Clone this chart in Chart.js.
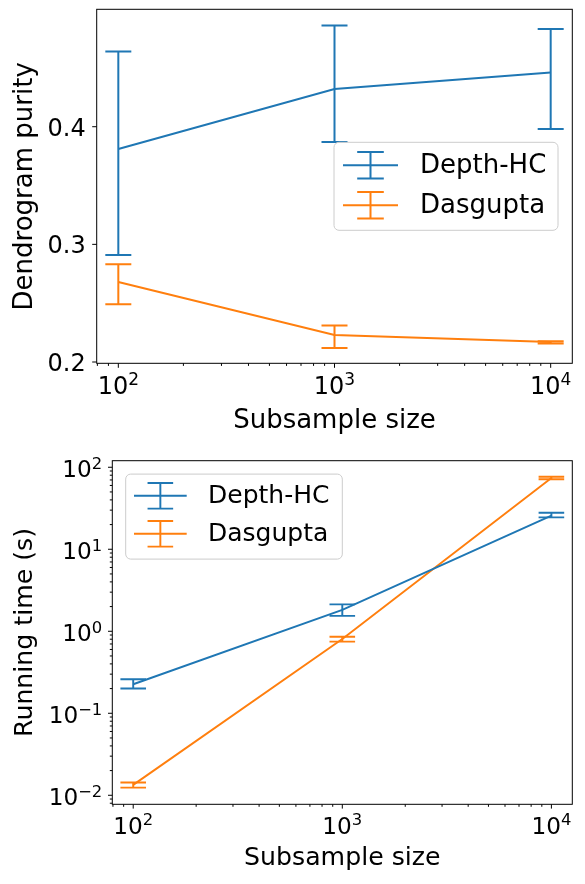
<!DOCTYPE html>
<html>
<head>
<meta charset="utf-8">
<title>Dendrogram purity and running time</title>
<script src="https://cdn.jsdelivr.net/npm/chart.js@4.4.1/dist/chart.umd.min.js"></script>
<style>
    html, body { margin: 0; padding: 0; background: #fff; }
    body { width: 585px; height: 884px; position: relative; overflow: hidden; }
    canvas { position: absolute; left: 0; }
    #purityChart  { top: 0; }
    #runtimeChart { top: 440px; }
</style>
</head>
<body>
<canvas id="purityChart" width="585" height="440"></canvas>
<canvas id="runtimeChart" width="585" height="444"></canvas>
<script>
// ---- data ----
var sizes       = [100, 1000, 10000];
var seriesNames = ['Depth-HC', 'Dasgupta'];

// top panel: dendrogram purity (mean, lower / upper error bar ends)
var purityDepthMean = [0.381, 0.432, 0.446];
var purityDepthLow  = [0.291, 0.387, 0.398];
var purityDepthHigh = [0.464, 0.486, 0.483];
var purityDasMean   = [0.268, 0.223, 0.217];
var purityDasLow    = [0.249, 0.212, 0.2158];
var purityDasHigh   = [0.283, 0.231, 0.2176];

// bottom panel: running time in seconds
var timeDepthMean = [0.226, 1.82, 25.7];
var timeDepthLow  = [0.200, 1.54, 24.5];
var timeDepthHigh = [0.260, 2.13, 27.9];
var timeDasMean   = [0.0134, 0.805, 74.0];
var timeDasLow    = [0.0124, 0.747, 71.4];
var timeDasHigh   = [0.0143, 0.859, 76.8];

// tick labels
var xTickExps    = [2, 3, 4];
var purityTicks  = [0.2, 0.3, 0.4];
var timeTickExps = [-2, -1, 0, 1, 2];

(function () {
    'use strict';

    var blue   = '#1f77b4';
    var orange = '#ff7f0e';
    var family = '"DejaVu Sans", sans-serif';

    function pow10(e) { return Math.pow(10, e); }

    function minorLog(lo, hi) {
        var out = [];
        for (var e = lo; e <= hi; e++) {
            for (var m = 2; m <= 9; m++) out.push(m * pow10(e));
        }
        return out;
    }

    // "10" with a raised exponent, like matplotlib's mathtext labels
    function drawPow(ctx, exp, x, baseline, align, f) {
        var e = exp < 0 ? '\u2212' + (-exp) : String(exp);
        ctx.font = f.base + 'px ' + family;
        var w1 = ctx.measureText('10').width;
        ctx.font = f.sup + 'px ' + family;
        var w2 = ctx.measureText(e).width;
        var left = align === 'center' ? x - (w1 + w2) / 2 : x - (w1 + w2);
        ctx.textAlign = 'left';
        ctx.textBaseline = 'alphabetic';
        ctx.font = f.base + 'px ' + family;
        ctx.fillText('10', left, baseline);
        ctx.font = f.sup + 'px ' + family;
        ctx.fillText(e, left + w1, baseline - f.raise);
    }

    // vertical error bars with caps
    var errorBars = {
        id: 'errorBars',
        afterDatasetsDraw: function (chart, args, o) {
            var ctx = chart.ctx, xs = chart.scales.x, ys = chart.scales.y;
            ctx.save();
            chart.data.datasets.forEach(function (ds) {
                ctx.strokeStyle = ds.borderColor;
                ctx.lineWidth = ds.borderWidth;
                ds.data.forEach(function (p, i) {
                    var px = xs.getPixelForValue(p.x);
                    var lo = ys.getPixelForValue(ds.errLow[i]);
                    var hi = ys.getPixelForValue(ds.errHigh[i]);
                    ctx.beginPath();
                    ctx.moveTo(px, lo); ctx.lineTo(px, hi);
                    ctx.moveTo(px - o.cap, lo); ctx.lineTo(px + o.cap, lo);
                    ctx.moveTo(px - o.cap, hi); ctx.lineTo(px + o.cap, hi);
                    ctx.stroke();
                });
            });
            ctx.restore();
        }
    };

    // frame, ticks, tick labels, axis titles and legend
    var mplAxes = {
        id: 'mplAxes',
        afterDraw: function (chart, args, o) {
            var ctx = chart.ctx, a = chart.chartArea;
            var xs = chart.scales.x, ys = chart.scales.y;
            ctx.save();
            ctx.strokeStyle = '#000';
            ctx.fillStyle = '#000';
            ctx.lineWidth = 1;

            function xTick(v, len) {
                var px = xs.getPixelForValue(v);
                if (px < a.left - 0.5 || px > a.right + 0.5) return;
                ctx.beginPath(); ctx.moveTo(px, a.bottom); ctx.lineTo(px, a.bottom + len); ctx.stroke();
            }
            function yTick(v, len) {
                var py = ys.getPixelForValue(v);
                if (py < a.top - 0.5 || py > a.bottom + 0.5) return;
                ctx.beginPath(); ctx.moveTo(a.left, py); ctx.lineTo(a.left - len, py); ctx.stroke();
            }
            o.xMinor.forEach(function (v) { xTick(v, o.minorLen); });
            o.xMajor.forEach(function (v) { xTick(v, o.majorLen); });
            o.yMinor.forEach(function (v) { yTick(v, o.minorLen); });
            o.yMajor.forEach(function (v) { yTick(v, o.majorLen); });

            ctx.strokeRect(a.left, a.top, a.right - a.left, a.bottom - a.top);

            // tick labels
            o.xMajor.forEach(function (v, i) {
                drawPow(ctx, o.xExps[i], xs.getPixelForValue(v), a.bottom + o.xLabelDy, 'center', o.tickFont);
            });
            o.yMajor.forEach(function (v, i) {
                var py = ys.getPixelForValue(v);
                if (py < a.top - 0.5 || py > a.bottom + 0.5) return;
                if (o.yExps) {
                    drawPow(ctx, o.yExps[i], a.left - o.yLabelGap, py + o.yLabelDy, 'right', o.tickFont);
                } else {
                    ctx.font = o.tickFont.base + 'px ' + family;
                    ctx.textAlign = 'right';
                    ctx.textBaseline = 'alphabetic';
                    ctx.fillText(o.yLabels[i], a.left - o.yLabelGap, py + o.yLabelDy);
                }
            });

            // axis titles
            ctx.font = o.titleSize + 'px ' + family;
            ctx.textAlign = 'center';
            ctx.textBaseline = 'alphabetic';
            ctx.fillText(o.xTitle, (a.left + a.right) / 2, a.bottom + o.xTitleDy);
            ctx.save();
            ctx.translate(o.yTitleX, (a.top + a.bottom) / 2);
            ctx.rotate(-Math.PI / 2);
            ctx.fillText(o.yTitle, 0, 0);
            ctx.restore();

            // legend
            var L = o.legend;
            var bx = L.anchor === 'right' ? a.right - L.pad - L.w : a.left + L.pad;
            var by = L.anchor === 'right' ? (a.top + a.bottom) / 2 - L.h / 2 : a.top + L.pad;
            ctx.beginPath();
            ctx.roundRect(bx, by, L.w, L.h, L.radius);
            ctx.fillStyle = 'rgba(255,255,255,0.8)';
            ctx.fill();
            ctx.strokeStyle = '#cccccc';
            ctx.lineWidth = 1;
            ctx.stroke();
            chart.data.datasets.forEach(function (ds, i) {
                var cy = by + L.row0 + i * L.rowGap;
                var hx0 = bx + L.handleL, hx1 = bx + L.handleR, hc = (hx0 + hx1) / 2;
                ctx.strokeStyle = ds.borderColor;
                ctx.lineWidth = ds.borderWidth;
                ctx.beginPath();
                ctx.moveTo(hx0, cy); ctx.lineTo(hx1, cy);
                ctx.moveTo(hc, cy - L.bar); ctx.lineTo(hc, cy + L.bar);
                ctx.moveTo(hc - L.cap, cy - L.bar); ctx.lineTo(hc + L.cap, cy - L.bar);
                ctx.moveTo(hc - L.cap, cy + L.bar); ctx.lineTo(hc + L.cap, cy + L.bar);
                ctx.stroke();
                ctx.fillStyle = '#000';
                ctx.font = L.font + 'px ' + family;
                ctx.textAlign = 'left';
                ctx.textBaseline = 'middle';
                ctx.fillText(ds.label, bx + L.textX, cy + 1);
            });
            ctx.restore();
        }
    };

    function series(label, colour, width, mean, low, high) {
        return {
            label: label,
            data: sizes.map(function (s, i) { return { x: s, y: mean[i] }; }),
            errLow: low,
            errHigh: high,
            borderColor: colour,
            backgroundColor: colour,
            borderWidth: width,
            pointRadius: 0,
            tension: 0,
            fill: false
        };
    }

    function hiddenScale(extra) {
        return Object.assign({
            bounds: 'data',
            ticks: { display: false },
            grid: { display: false },
            border: { display: false }
        }, extra);
    }

    // Top: dendrogram purity
    new Chart(document.getElementById('purityChart'), {
        type: 'line',
        data: {
            datasets: [
                series(seriesNames[0], blue, 2, purityDepthMean, purityDepthLow, purityDepthHigh),
                series(seriesNames[1], orange, 2, purityDasMean, purityDasLow, purityDasHigh)
            ]
        },
        options: {
            responsive: false,
            animation: false,
            events: [],
            layout: { padding: { top: 9.3, right: 12.7, left: 0, bottom: 0 } },
            scales: {
                x: hiddenScale({ type: 'logarithmic', min: pow10(1.9), max: pow10(4.1),
                    afterFit: function (s) { s.height = 76.7; } }),
                y: hiddenScale({ type: 'linear', min: 0.1989, max: 0.4998,
                    afterFit: function (s) { s.width = 96.7; } })
            },
            plugins: {
                legend: { display: false },
                tooltip: { enabled: false },
                errorBars: { cap: 13 },
                mplAxes: {
                    xMajor: xTickExps.map(pow10), xExps: xTickExps, xMinor: minorLog(1, 4),
                    yMajor: purityTicks, yLabels: purityTicks.map(function (v) { return v.toFixed(1); }),
                    yMinor: [],
                    majorLen: 4.5, minorLen: 2.6,
                    tickFont: { base: 24, sup: 17, raise: 9 },
                    xLabelDy: 31, yLabelGap: 11, yLabelDy: 8.8,
                    titleSize: 26, xTitle: 'Subsample size', xTitleDy: 65,
                    yTitle: 'Dendrogram purity', yTitleX: 32,
                    legend: { anchor: 'right', pad: 14.3, w: 224, h: 88, radius: 5,
                        row0: 23, rowGap: 40, handleL: 9, handleR: 64, bar: 13.3, cap: 13.3,
                        textX: 86, font: 26 }
                }
            }
        },
        plugins: [errorBars, mplAxes]
    });

    // Bottom: running time
    new Chart(document.getElementById('runtimeChart'), {
        type: 'line',
        data: {
            datasets: [
                series(seriesNames[0], blue, 1.93, timeDepthMean, timeDepthLow, timeDepthHigh),
                series(seriesNames[1], orange, 1.93, timeDasMean, timeDasLow, timeDasHigh)
            ]
        },
        options: {
            responsive: false,
            animation: false,
            events: [],
            layout: { padding: { top: 20.7, right: 12.7, left: 0, bottom: 0 } },
            scales: {
                x: hiddenScale({ type: 'logarithmic', min: pow10(1.9), max: pow10(4.1),
                    afterFit: function (s) { s.height = 79.7; } }),
                y: hiddenScale({ type: 'logarithmic', min: pow10(-2.11), max: pow10(2.08),
                    afterFit: function (s) { s.width = 112.3; } })
            },
            plugins: {
                legend: { display: false },
                tooltip: { enabled: false },
                errorBars: { cap: 12.8 },
                mplAxes: {
                    xMajor: xTickExps.map(pow10), xExps: xTickExps, xMinor: minorLog(1, 4),
                    yMajor: timeTickExps.map(pow10), yExps: timeTickExps, yMinor: minorLog(-3, 2),
                    majorLen: 4.3, minorLen: 2.5,
                    tickFont: { base: 23.2, sup: 16.4, raise: 8.7 },
                    xLabelDy: 29.5, yLabelGap: 10, yLabelDy: 10.2,
                    titleSize: 25.2, xTitle: 'Subsample size', xTitleDy: 60.7,
                    yTitle: 'Running time (s)', yTitleX: 32,
                    legend: { anchor: 'left', pad: 13.4, w: 216.6, h: 85, radius: 5,
                        row0: 21.7, rowGap: 38, handleL: 8.3, handleR: 61, bar: 12.8, cap: 12.8,
                        textX: 82.3, font: 25 }
                }
            }
        },
        plugins: [errorBars, mplAxes]
    });
})();
</script>
</body>
</html>
